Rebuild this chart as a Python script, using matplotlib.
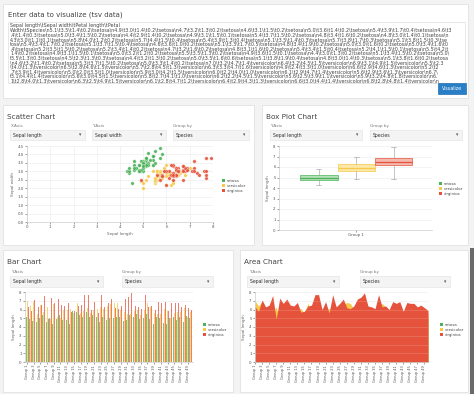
import textwrap
import numpy as np
import matplotlib
matplotlib.use("Agg")
import matplotlib.pyplot as plt
from matplotlib.patches import Rectangle, Patch

W, H = 474, 394

# iris data, as shown in the dashboard
species = ["setosa", "versicolor", "virginica"]
setosa_sl = [5.1, 4.9, 4.7, 4.6, 5.0, 5.4, 4.6, 5.0, 4.4, 4.9, 5.4, 4.8, 4.8, 4.3, 5.8, 5.7, 5.4, 5.1, 5.7, 5.1,
             5.4, 5.1, 4.6, 5.1, 4.8, 5.0, 5.0, 5.2, 5.2, 4.7, 4.8, 5.4, 5.2, 5.5, 4.9, 5.0, 5.5, 4.9, 4.4, 5.1,
             5.0, 4.5, 4.4, 5.0, 5.1, 4.8, 5.1, 4.6, 5.3, 5.0]
setosa_sw = [3.5, 3.0, 3.2, 3.1, 3.6, 3.9, 3.4, 3.4, 2.9, 3.1, 3.7, 3.4, 3.0, 3.0, 4.0, 4.4, 3.9, 3.5, 3.8, 3.8,
             3.4, 3.7, 3.6, 3.3, 3.4, 3.0, 3.4, 3.5, 3.4, 3.2, 3.1, 3.4, 4.1, 4.2, 3.1, 3.2, 3.5, 3.6, 3.0, 3.4,
             3.5, 2.3, 3.2, 3.5, 3.8, 3.0, 3.8, 3.2, 3.7, 3.3]
setosa_pl = [1.4, 1.4, 1.3, 1.5, 1.4, 1.7, 1.4, 1.5, 1.4, 1.5, 1.5, 1.6, 1.4, 1.1, 1.2, 1.5, 1.3, 1.4, 1.7, 1.5,
             1.7, 1.5, 1.0, 1.7, 1.9, 1.6, 1.6, 1.5, 1.4, 1.6, 1.6, 1.5, 1.5, 1.4, 1.5, 1.2, 1.3, 1.5, 1.3, 1.5,
             1.3, 1.3, 1.3, 1.6, 1.9, 1.4, 1.6, 1.4, 1.5, 1.4]
setosa_pw = [0.2, 0.2, 0.2, 0.2, 0.2, 0.4, 0.3, 0.2, 0.2, 0.1, 0.2, 0.2, 0.1, 0.1, 0.2, 0.4, 0.4, 0.3, 0.3, 0.3,
             0.2, 0.4, 0.2, 0.5, 0.2, 0.2, 0.4, 0.2, 0.2, 0.2, 0.2, 0.4, 0.1, 0.2, 0.1, 0.2, 0.2, 0.1, 0.2, 0.2,
             0.3, 0.3, 0.2, 0.6, 0.4, 0.3, 0.2, 0.2, 0.2, 0.2]
versicolor_sl = [7.0, 6.4, 6.9, 5.5, 6.5, 5.7, 6.3, 4.9, 6.6, 5.2, 5.0, 5.9, 6.0, 6.1, 5.6, 6.7, 5.6, 5.8, 6.2, 5.6,
                 5.9, 6.1, 6.3, 6.1, 6.4, 6.6, 6.8, 6.7, 6.0, 5.7, 5.5, 5.5, 5.8, 6.0, 5.4, 6.0, 6.7, 6.3, 5.6, 5.5,
                 5.5, 6.1, 5.8, 5.0, 5.6, 5.7, 5.7, 6.2, 5.1, 5.7]
versicolor_sw = [3.2, 3.2, 3.1, 2.3, 2.8, 2.8, 3.3, 2.4, 2.9, 2.7, 2.0, 3.0, 2.2, 2.9, 2.9, 3.1, 3.0, 2.7, 2.2, 2.5,
                 3.2, 2.8, 2.5, 2.8, 2.9, 3.0, 2.8, 3.0, 2.9, 2.6, 2.4, 2.4, 2.7, 2.7, 3.0, 3.4, 3.1, 2.3, 3.0, 2.5,
                 2.6, 3.0, 2.6, 2.3, 2.7, 3.0, 2.9, 2.9, 2.5, 2.8]
versicolor_pl = [4.7, 4.5, 4.9, 4.0, 4.6, 4.5, 4.7, 3.3, 4.6, 3.9, 3.5, 4.2, 4.0, 4.7, 3.6, 4.4, 4.5, 4.1, 4.5, 3.9,
                 4.8, 4.0, 4.9, 4.7, 4.3, 4.4, 4.8, 5.0, 4.5, 3.5, 3.8, 3.7, 3.9, 5.1, 4.5, 4.5, 4.7, 4.4, 4.1, 4.0,
                 4.4, 4.6, 4.0, 3.3, 4.2, 4.2, 4.2, 4.3, 3.0, 4.1]
versicolor_pw = [1.4, 1.5, 1.5, 1.3, 1.5, 1.3, 1.6, 1.0, 1.3, 1.4, 1.0, 1.5, 1.0, 1.4, 1.3, 1.4, 1.5, 1.0, 1.5, 1.1,
                 1.8, 1.3, 1.5, 1.2, 1.3, 1.4, 1.4, 1.7, 1.5, 1.0, 1.1, 1.0, 1.2, 1.6, 1.5, 1.6, 1.5, 1.3, 1.3, 1.3,
                 1.2, 1.4, 1.2, 1.0, 1.3, 1.2, 1.3, 1.3, 1.1, 1.3]
virginica_sl = [6.3, 5.8, 7.1, 6.3, 6.5, 7.6, 4.9, 7.3, 6.7, 7.2, 6.5, 6.4, 6.8, 5.7, 5.8, 6.4, 6.5, 7.7, 7.7, 6.0,
                6.9, 5.6, 7.7, 6.3, 6.7, 7.2, 6.2, 6.1, 6.4, 7.2, 7.4, 7.9, 6.4, 6.3, 6.1, 7.7, 6.3, 6.4, 6.0, 6.9,
                6.7, 6.9, 5.8, 6.8, 6.7, 6.7, 6.3, 6.5, 6.2, 5.9]
virginica_sw = [3.3, 2.7, 3.0, 2.9, 3.0, 3.0, 2.5, 2.9, 2.5, 3.6, 3.2, 2.7, 3.0, 2.5, 2.8, 3.2, 3.0, 3.8, 2.6, 2.2,
                3.2, 2.8, 2.8, 2.7, 3.3, 3.2, 2.8, 3.0, 2.8, 3.0, 2.8, 3.8, 2.8, 2.8, 2.6, 3.0, 3.4, 3.1, 3.0, 3.1,
                3.1, 3.1, 2.7, 3.2, 3.3, 3.0, 2.5, 3.0, 3.4, 3.0]
virginica_pl = [6.0, 5.1, 5.9, 5.6, 5.8, 6.6, 4.5, 6.3, 5.8, 6.1, 5.1, 5.3, 5.5, 5.0, 5.1, 5.3, 5.5, 6.7, 6.9, 5.0,
                5.7, 4.9, 6.7, 4.9, 5.7, 6.0, 4.8, 4.9, 5.6, 5.8, 6.1, 6.4, 5.6, 5.1, 5.6, 6.1, 5.6, 5.5, 4.8, 5.4,
                5.6, 5.1, 5.1, 5.9, 5.7, 5.2, 5.0, 5.2, 5.4, 5.1]
virginica_pw = [2.5, 1.9, 2.1, 1.8, 2.2, 2.1, 1.7, 1.8, 1.8, 2.5, 2.0, 1.9, 2.1, 2.0, 2.4, 2.3, 1.8, 2.2, 2.3, 1.5,
                2.3, 2.0, 2.0, 1.8, 2.1, 1.8, 1.8, 1.8, 2.1, 1.6, 1.9, 2.0, 2.2, 1.5, 1.4, 2.3, 2.4, 1.8, 1.8, 2.1,
                2.4, 2.3, 1.9, 2.3, 2.5, 2.3, 1.9, 2.0, 2.3, 1.8]

scatter_xticks = [0, 1, 2, 3, 4, 5, 6, 7, 8]
scatter_yticks = [0.0, 0.5, 1.0, 1.5, 2.0, 2.5, 3.0, 3.5, 4.0, 4.5]
len_ticks = [0, 1, 2, 3, 4, 5, 6, 7, 8]
group_labels = ["Group %d" % (i + 1) for i in range(50)]

colors = {"setosa": "#4cb35a", "versicolor": "#f6c94a", "virginica": "#e5533c"}
box_fill = {"setosa": "#b4e0ba", "versicolor": "#fbe7a6", "virginica": "#f5b8ad"}
sepal_len = {"setosa": setosa_sl, "versicolor": versicolor_sl, "virginica": virginica_sl}
sepal_wid = {"setosa": setosa_sw, "versicolor": versicolor_sw, "virginica": virginica_sw}

TXT = "#555555"
LIGHT = "#777777"

fig = plt.figure(figsize=(W / 100, H / 100), dpi=100)
fig.patch.set_facecolor("#f3f3f3")


def box(x0, y0, x1, y1):
    # pixel box (top-left origin) -> figure rect
    return [x0 / W, 1 - y1 / H, (x1 - x0) / W, (y1 - y0) / H]


def rect(x0, y0, x1, y1, fc="white", ec="#e2e2e2", lw=0.6, z=-1):
    fig.patches.append(Rectangle((x0 / W, 1 - y1 / H), (x1 - x0) / W, (y1 - y0) / H,
                                 transform=fig.transFigure, fc=fc, ec=ec, lw=lw, zorder=z))


def txt(x, y, s, size=3.2, color=TXT, **kw):
    fig.text(x / W, 1 - y / H, s, fontsize=size, color=color, va="center", **kw)


def dropdown(x0, x1, y0, y1, label):
    rect(x0, y0, x1, y1, fc="#f4f4f4", ec="#e6e6e6", lw=0.5, z=1)
    txt(x0 + 3, (y0 + y1) / 2, label, size=3.3, color="#333333")
    txt(x1 - 6, (y0 + y1) / 2, "\u25be", size=3.3, color="#555555")


def style_axes(ax, ylabel, xgrid=False):
    ax.set_zorder(2)
    ax.set_facecolor("white")
    for s in ["top", "right"]:
        ax.spines[s].set_visible(False)
    for s in ["left", "bottom"]:
        ax.spines[s].set_color("#cccccc")
        ax.spines[s].set_linewidth(0.5)
    ax.tick_params(labelsize=2.8, colors="#555555", length=1.2, width=0.4, pad=1.2)
    ax.grid(axis="y", color="#eeeeee", lw=0.5)
    if xgrid:
        ax.grid(axis="x", color="#eeeeee", lw=0.5)
    ax.set_axisbelow(True)
    ax.set_ylabel(ylabel, fontsize=3.0, color="#666666", labelpad=2)


def legend(ax, x, y):
    handles = [Patch(fc=colors[s], ec="none", label=s) for s in species]
    ax.legend(handles=handles, loc="upper left", bbox_to_anchor=(x / W, 1 - y / H),
              bbox_transform=fig.transFigure, frameon=False, fontsize=2.8,
              handlelength=0.8, handleheight=0.8, handletextpad=0.5, labelspacing=0.25,
              borderpad=0, labelcolor="#444444")


# ---- top panel: data input ----
rect(3, 4, 468, 98)
txt(8, 15, "Enter data to visualize (tsv data)", size=5.0, color="#444444")
rect(8, 22, 465, 83, fc="white", ec="#dddddd", lw=0.5)
rows = []
for s, cols in [("setosa", (setosa_sl, setosa_sw, setosa_pl, setosa_pw)),
                ("versicolor", (versicolor_sl, versicolor_sw, versicolor_pl, versicolor_pw)),
                ("virginica", (virginica_sl, virginica_sw, virginica_pl, virginica_pw))]:
    for vals in zip(*cols):
        rows.append("\\t".join("%.1f" % v for v in vals) + "\\t" + s)
rest = "Width\\tSpecies\\n" + "\\n".join(rows)
lines = ["Sepal length\\tSepal width\\tPetal length\\tPetal"] + textwrap.wrap(rest, 190)
for i, ln in enumerate(lines[:13]):
    fig.text(10 / W, 1 - (25.8 + i * 4.6) / H, ln, fontsize=3.4, color="#444444", va="center")
rect(438, 83, 466, 94, fc="#2a7ec6", ec="#2370b3", lw=0.5, z=2)
txt(452, 88.5, "Visualize", size=3.3, color="white", ha="center")

# ---- scatter panel ----
rect(3, 105, 254, 245)
txt(7, 117, "Scatter Chart", size=5.2, color="#444444")
txt(11, 126, "X-Axis", size=3.0, color=LIGHT)
txt(92, 126, "Y-Axis", size=3.0, color=LIGHT)
txt(173, 126, "Group by", size=3.0, color=LIGHT)
dropdown(10, 85, 130, 140, "Sepal length")
dropdown(92, 166, 130, 140, "Sepal width")
dropdown(173, 249, 130, 140, "Species")

ax = fig.add_axes(box(27, 146, 213, 222))
for s in species:
    ax.scatter(sepal_len[s], sepal_wid[s], s=6.5, color=colors[s], edgecolors="white",
               linewidths=0.25, alpha=0.9, zorder=3)
ax.set_xlim(0, 8)
ax.set_ylim(0, 4.5)
ax.set_xticks(scatter_xticks)
ax.set_yticks(scatter_yticks)
ax.set_yticklabels(["%.1f" % v for v in scatter_yticks])
style_axes(ax, "Sepal width", xgrid=True)
ax.set_xlabel("Sepal length", fontsize=3.0, color="#666666", labelpad=2)
legend(ax, 220, 177)

# ---- box plot panel ----
rect(262, 105, 468, 245)
txt(266, 117, "Box Plot Chart", size=5.2, color="#444444")
txt(270, 126, "Y-Axis", size=3.0, color=LIGHT)
txt(370, 126, "Group by", size=3.0, color=LIGHT)
dropdown(270, 362, 130, 140, "Sepal length")
dropdown(370, 462, 130, 140, "Species")

ax = fig.add_axes(box(279, 146, 432, 230))
for k, s in enumerate(species):
    ax.boxplot([sepal_len[s]], positions=[0.26 + 0.245 * k], widths=0.245, whis=(0, 100),
               patch_artist=True, showfliers=False,
               boxprops=dict(facecolor=box_fill[s], edgecolor=colors[s], lw=0.5),
               medianprops=dict(color=colors[s], lw=0.9),
               whiskerprops=dict(color="#999999", lw=0.4),
               capprops=dict(color="#999999", lw=0.4), capwidths=0.03)
ax.set_xlim(0, 1)
ax.set_ylim(0, 8)
ax.set_yticks(len_ticks)
ax.set_xticks([0.5])
ax.set_xticklabels(["Group 1"])
style_axes(ax, "Sepal length")
legend(ax, 437, 180)

# ---- bar chart panel ----
rect(3, 250, 233, 392)
txt(7, 262, "Bar Chart", size=5.2, color="#444444")
txt(11, 272, "Y-Axis", size=3.0, color=LIGHT)
txt(122, 272, "Group by", size=3.0, color=LIGHT)
dropdown(10, 103, 276, 287, "Sepal length")
dropdown(122, 213, 276, 287, "Species")

x = np.arange(len(group_labels))
ax = fig.add_axes(box(25, 292, 193, 362))
bw = 0.3
for k, s in enumerate(species):
    ax.bar(x + (k - 1) * bw, sepal_len[s], width=bw, color=colors[s], alpha=0.75, lw=0)
ax.set_xlim(-0.6, len(x) - 0.4)
ax.set_ylim(0, 8)
ax.set_yticks(len_ticks)
ax.set_xticks(x[::2])
ax.set_xticklabels(group_labels[::2], rotation=90)
style_axes(ax, "Sepal length")
ax.tick_params(axis="x", labelsize=2.6, pad=0.8)
legend(ax, 201, 321)

# ---- area chart panel ----
rect(240, 250, 468, 392)
txt(244, 262, "Area Chart", size=5.2, color="#444444")
txt(249, 272, "Y-Axis", size=3.0, color=LIGHT)
txt(360, 272, "Group by", size=3.0, color=LIGHT)
dropdown(247, 339, 276, 287, "Sepal length")
dropdown(360, 450, 276, 287, "Species")

ax = fig.add_axes(box(255, 292, 428, 362))
for s in species:
    ax.fill_between(x, 0, sepal_len[s], color=colors[s], lw=0, zorder=2)
ax.set_xlim(0, len(x) - 1)
ax.set_ylim(0, 8)
ax.set_yticks(len_ticks)
ax.set_xticks(x[::2])
ax.set_xticklabels(group_labels[::2], rotation=90)
style_axes(ax, "Sepal length")
for v in len_ticks[1:]:
    ax.axhline(v, color="white", alpha=0.25, lw=0.4, zorder=3)
ax.tick_params(axis="x", labelsize=2.6, pad=0.8)
legend(ax, 438, 321)

# scrollbar on the right
rect(470, 248, 474, 394, fc="#6a6a6a", ec="none", lw=0, z=5)

fig.savefig("out.png", dpi=100, facecolor=fig.get_facecolor())
